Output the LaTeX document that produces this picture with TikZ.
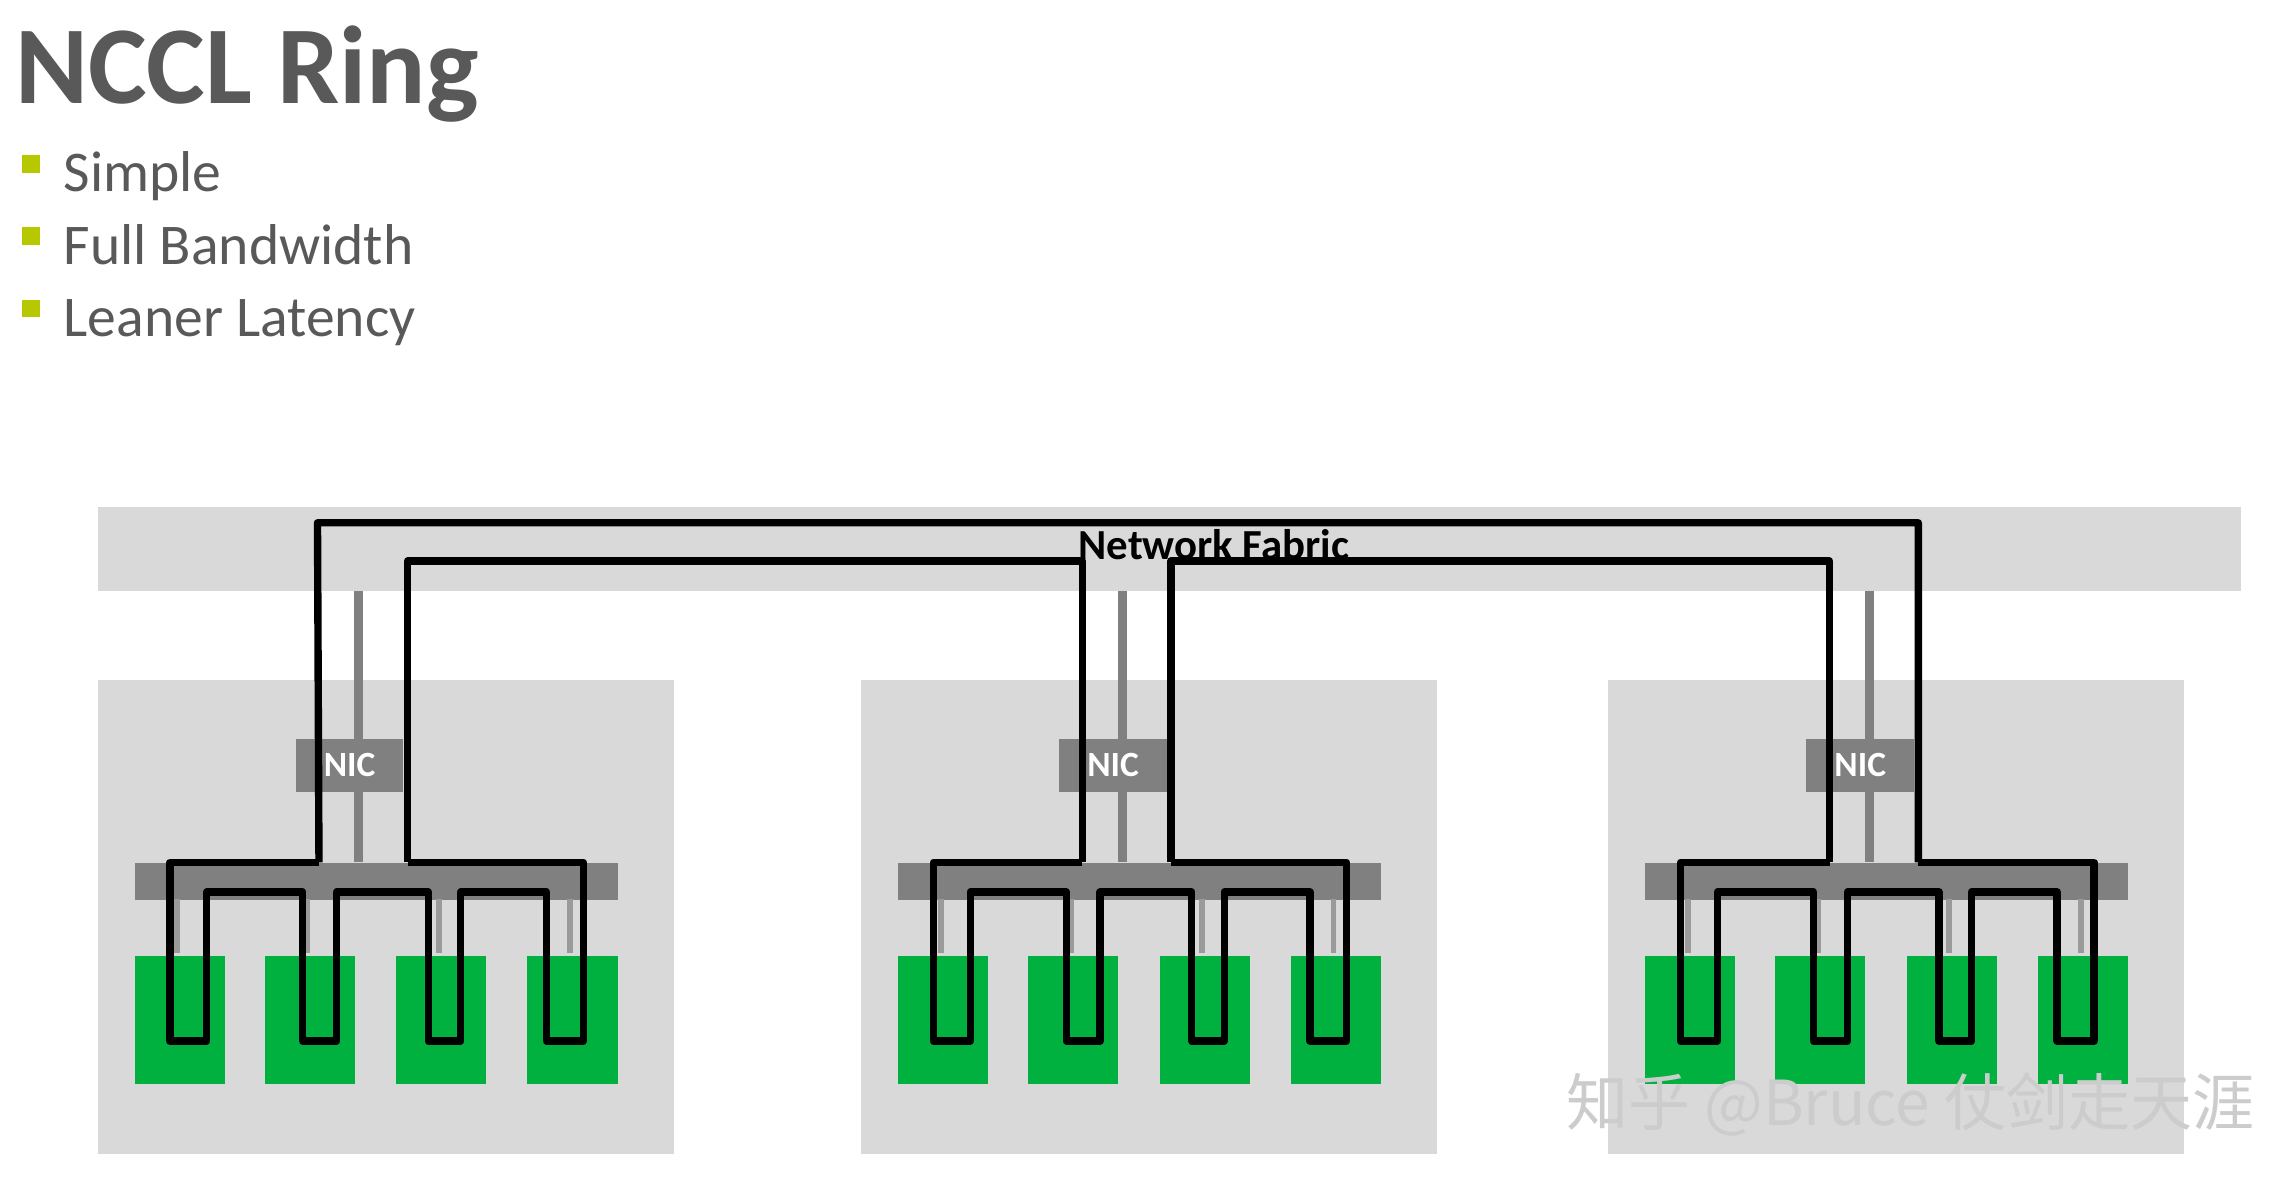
\documentclass[tikz,border=0pt]{standalone}
\usepackage{fontspec}
\setmainfont{Carlito}
\newfontfamily\cjkfont{Noto Sans CJK SC}
\definecolor{txtgray}{HTML}{595959}
\definecolor{boxgray}{HTML}{D9D9D9}
\definecolor{bargray}{HTML}{808080}
\definecolor{gpugreen}{HTML}{00B140}
\definecolor{bulletgreen}{HTML}{B5C800}
\tikzset{
  panel/.style = {fill = boxgray, draw = none, inner sep = 0pt, anchor = north west},
  bar/.style = {fill = bargray, draw = none, inner sep = 0pt, anchor = north west},
  gpu/.style = {fill = gpugreen, draw = none, inner sep = 0pt, anchor = north west,
                minimum width = 61pt, minimum height = 87pt},
  wire/.style = {bargray, line width = 6pt},
  stub/.style = {bargray!80, line width = 4pt},
  ring/.style = {black, line width = 5pt, line join = round},
  item/.style = {txtgray, anchor = base west, font = \fontsize{39}{39}\selectfont}
}
\begin{document}
\begin{tikzpicture}[x = 1pt, y = -1pt]
\useasboundingbox[fill = white] (0,0) rectangle (1548,802);

% title and list
\node[txtgray, anchor = base west, inner sep = 0pt, font = \fontsize{75}{75}\bfseries] (title) at (10,70) {NCCL Ring};
\foreach \t [count = \i] in {Simple, Full Bandwidth, Leaner Latency} {
  \node[fill = bulletgreen, inner sep = 0pt, minimum size = 12pt] (b\i) at (21,{111 + 49*(\i-1)}) {};
  \node[item, inner sep = 0pt] (l\i) at (43,{130 + 49*(\i-1)}) {\t};
}

% network fabric
\node[panel, minimum width = 1451pt, minimum height = 57pt] (fabric) at (66,343) {};

% servers
\foreach \s/\x in {1/66, 2/583, 3/1089} {
  \node[panel, minimum width = 390pt, minimum height = 321pt] (srv\s) at (\x,460) {};
  \draw[wire] (\x+177,400) -- (\x+177,584);
  \node[bar, minimum width = 73pt, minimum height = 36pt] (nic\s) at (\x+134,500) {};
  \node[white, font = \fontsize{24}{24}\bfseries] at (nic\s) {NIC};
  \node[bar, minimum width = 327pt, minimum height = 25pt] (bus\s) at (\x+25,584) {};
  \foreach \g/\gx in {1/25, 2/113, 3/202, 4/291} {
    \node[gpu] (gpu\s-\g) at (\x+\gx,647) {};
    \draw[stub] (\x+\gx+29,609) -- (\x+\gx+29,645);
  }
  % ring inside the server
  \coordinate (in\s) at (\x+150,584);
  \coordinate (out\s) at (\x+210,584);
  \coordinate (up\s) at (\x+150,380);
  \coordinate (top\s) at (\x+210,380);
  \draw[ring] (in\s) -| (\x+49,705) -| (\x+74,604) -| (\x+139,705) -| (\x+162,604)
    -| (\x+224,705) -| (\x+246,604) -| (\x+304,705) -| (\x+329,584) -- (out\s);
}

% ring over the fabric
\draw[ring] (in1) -- (215,354) -| (out3);
\draw[ring] (out1) -- (top1) -| (in2);
\draw[ring] (out2) -- (top2) -| (in3);
\node[font = \fontsize{29}{29}\bfseries] (fablabel) at (822,369) {Network Fabric};

% watermark
\node[white!80!black, font = \cjkfont\fontsize{42}{42}\selectfont, anchor = east] (mark) at (1530,748) {知乎 @Bruce 仗剑走天涯};
\end{tikzpicture}
\end{document}
